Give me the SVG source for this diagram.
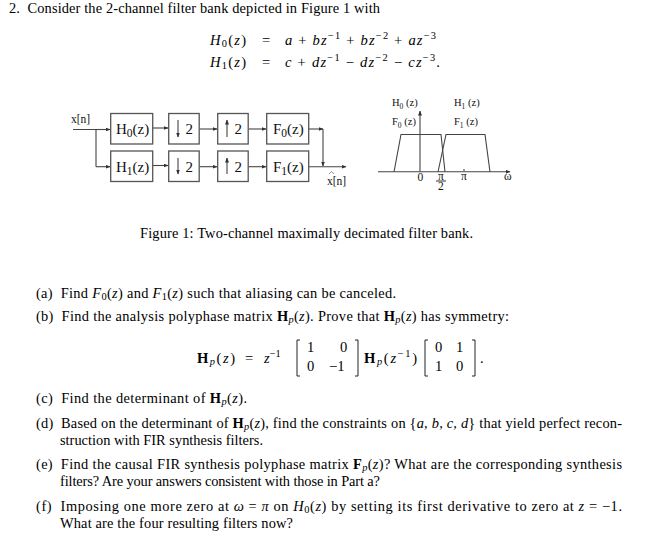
<svg xmlns="http://www.w3.org/2000/svg" width="659" height="558" viewBox="0 0 659 558">
<style>
text{font-family:"Liberation Serif","Times New Roman",serif;fill:#000;white-space:pre}
.b{font-size:14.4px}
.m{font-size:14.6px}
.i{font-style:italic}
.s{font-size:10.4px}
.bd{font-weight:bold}
.d{font-size:15px;fill:#111}
.sd{font-size:11.5px}
.sm{font-size:10.5px;fill:#111}
.ax{font-size:11.5px;fill:#111}
.ss{font-size:7.5px}
.lb{font-size:11.5px;fill:#111}
.box{fill:#fff;stroke:#555;stroke-width:1.3}
.ln{fill:none;stroke:#444;stroke-width:1.1}
.ar{fill:none;stroke:#444;stroke-width:1.1;marker-end:url(#a)}
.br{fill:none;stroke:#222;stroke-width:1}
</style>
<defs>
<marker id="a" markerWidth="5" markerHeight="4" refX="4.5" refY="2" orient="auto" markerUnits="userSpaceOnUse"><path d="M0 0L5 2L0 4z" fill="#333"/></marker>
</defs>
<rect width="659" height="558" fill="#fff"/>
<text class="b" x="9" y="13" textLength="371">2.  Consider the 2-channel filter bank depicted in Figure 1 with</text>
<g id="equations">
<text class="m" x="210" y="45" textLength="36"><tspan class="i">H</tspan><tspan class="s" dy="2">0</tspan><tspan dy="-2">(</tspan><tspan class="i">z</tspan>)</text>
<text class="m" x="262" y="45">=</text>
<text class="m" x="285" y="45" textLength="151"><tspan class="i">a</tspan> + <tspan class="i">bz</tspan><tspan class="s" dy="-6">−1</tspan><tspan dy="6"> + </tspan><tspan class="i">bz</tspan><tspan class="s" dy="-6">−2</tspan><tspan dy="6"> + </tspan><tspan class="i">az</tspan><tspan class="s" dy="-6">−3</tspan></text>
<text class="m" x="210" y="67" textLength="36"><tspan class="i">H</tspan><tspan class="s" dy="2">1</tspan><tspan dy="-2">(</tspan><tspan class="i">z</tspan>)</text>
<text class="m" x="262" y="67">=</text>
<text class="m" x="285" y="67" textLength="155"><tspan class="i">c</tspan> + <tspan class="i">dz</tspan><tspan class="s" dy="-6">−1</tspan><tspan dy="6"> − </tspan><tspan class="i">dz</tspan><tspan class="s" dy="-6">−2</tspan><tspan dy="6"> − </tspan><tspan class="i">cz</tspan><tspan class="s" dy="-6">−3</tspan><tspan dy="6">.</tspan></text>
</g>
<g id="connectors">
<path class="ln" d="M73 129.500H96V166.700"/>
<path class="ar" d="M96 129.500H110"/>
<path class="ar" d="M96 166.700H110"/>
<path class="ar" d="M153 128H168"/>
<path class="ar" d="M153 165.500H168"/>
<path class="ar" d="M199.500 129H217"/>
<path class="ar" d="M199.500 166.700H217"/>
<path class="ar" d="M248.500 129H266"/>
<path class="ar" d="M248.500 166.700H266"/>
<path class="ar" d="M309 129H323"/>
<path class="ar" d="M323 129V166"/>
<path class="ar" d="M309 166.700H346"/>
</g>
<g id="H0"><rect class="box" x="110.700" y="113.500" width="42" height="30.500"/><text class="d" x="116" y="134">H<tspan class="sd" dy="3">0</tspan><tspan dy="-3">(z)</tspan></text></g>
<g id="H1"><rect class="box" x="110.700" y="151" width="42" height="30.500"/><text class="d" x="116" y="171.500">H<tspan class="sd" dy="3">1</tspan><tspan dy="-3">(z)</tspan></text></g>
<g id="D0"><rect class="box" x="168.700" y="113.500" width="30.500" height="30.500"/><path class="ar" d="M178 120V137"/><text class="d" x="185.500" y="134">2</text></g>
<g id="D1"><rect class="box" x="168.700" y="151" width="30.500" height="30.500"/><path class="ar" d="M178 158V174"/><text class="d" x="185.500" y="171.500">2</text></g>
<g id="U0"><rect class="box" x="217.700" y="113.500" width="30.500" height="30.500"/><path class="ar" d="M227 137V120"/><text class="d" x="234.500" y="134">2</text></g>
<g id="U1"><rect class="box" x="217.700" y="151" width="30.500" height="30.500"/><path class="ar" d="M227 174V158"/><text class="d" x="234.500" y="171.500">2</text></g>
<g id="F0"><rect class="box" x="266.700" y="113.500" width="42" height="30.500"/><text class="d" x="273" y="134">F<tspan class="sd" dy="3">0</tspan><tspan dy="-3">(z)</tspan></text></g>
<g id="F1"><rect class="box" x="266.700" y="151" width="42" height="30.500"/><text class="d" x="273" y="171.500">F<tspan class="sd" dy="3">1</tspan><tspan dy="-3">(z)</tspan></text></g>
<g id="labels">
<text class="lb" x="71" y="123">x[n]</text>
<text class="lb" x="327" y="185">x[n]</text>
<path class="ln" style="stroke-width:.6" d="M329 174L331.500 171.500L334 174"/>
</g>
<g id="spectrum">
<path class="ar" d="M378 171.700H510"/>
<path class="ar" d="M420 172V111"/>
<path class="ln" d="M394 172L401 134.500H441L445 172"/>
<path class="ln" d="M438 172L446 134.500H485L490 172"/>
<path class="ln" d="M464 171V169"/>
<text class="sm" x="392" y="106">H<tspan class="ss" dy="3">0</tspan><tspan dy="-3"> (z)</tspan></text>
<text class="sm" x="454" y="106">H<tspan class="ss" dy="3">1</tspan><tspan dy="-3"> (z)</tspan></text>
<text class="sm" x="392" y="125">F<tspan class="ss" dy="3">0</tspan><tspan dy="-3"> (z)</tspan></text>
<text class="sm" x="454" y="125">F<tspan class="ss" dy="3">1</tspan><tspan dy="-3"> (z)</tspan></text>
<text class="ax" x="417.500" y="180.500">0</text>
<text class="ax" x="438" y="179.500">π</text>
<path class="ln" d="M436 181H446"/>
<text class="ax" x="438" y="190">2</text>
<text class="ax" x="461" y="179.500">π</text>
<text class="ax" x="504" y="180">ω</text>
</g>
<text class="b" x="140" y="238" textLength="333">Figure 1: Two-channel maximally decimated filter bank.</text>
<text class="b" x="36" y="298" textLength="360">(a)  Find <tspan class="i">F</tspan><tspan class="s" dy="2">0</tspan><tspan dy="-2">(</tspan><tspan class="i">z</tspan>) and <tspan class="i">F</tspan><tspan class="s" dy="2">1</tspan><tspan dy="-2">(</tspan><tspan class="i">z</tspan>) such that aliasing can be canceled.</text>
<text class="b" x="36" y="321" textLength="473">(b)  Find the analysis polyphase matrix <tspan class="bd">H</tspan><tspan class="s i" dy="2">p</tspan><tspan dy="-2">(</tspan><tspan class="i">z</tspan>). Prove that <tspan class="bd">H</tspan><tspan class="s i" dy="2">p</tspan><tspan dy="-2">(</tspan><tspan class="i">z</tspan>) has symmetry:</text>
<g id="matrix-equation">
<text class="m" x="197" y="363" textLength="38"><tspan class="bd">H</tspan><tspan class="s i" dy="2">p</tspan><tspan dy="-2">(</tspan><tspan class="i">z</tspan>)</text>
<text class="m" x="245" y="363">=</text>
<text class="m" x="264" y="363"><tspan class="i">z</tspan><tspan class="s" dy="-6">−1</tspan></text>
<path class="br" d="M300 340H297V376H300M355 340H358V376H355"/>
<text class="m" x="307" y="352">1</text><text class="m" x="340" y="352">0</text>
<text class="m" x="307" y="371">0</text><text class="m" x="329" y="371">−1</text>
<text class="m" x="364" y="363" textLength="53"><tspan class="bd">H</tspan><tspan class="s i" dy="2">p</tspan><tspan dy="-2">(</tspan><tspan class="i">z</tspan><tspan class="s" dy="-6">−1</tspan><tspan dy="6">)</tspan></text>
<path class="br" d="M428 340H425V376H428M472 340H475V376H472"/>
<text class="m" x="435" y="352">0</text><text class="m" x="456" y="352">1</text>
<text class="m" x="435" y="371">1</text><text class="m" x="456" y="371">0</text>
<text class="m" x="480" y="363">.</text>
</g>
<text class="b" x="36" y="403" textLength="211">(c)  Find the determinant of <tspan class="bd">H</tspan><tspan class="s i" dy="2">p</tspan><tspan dy="-2">(</tspan><tspan class="i">z</tspan>).</text>
<text class="b" x="36" y="428" textLength="586">(d)  Based on the determinant of <tspan class="bd">H</tspan><tspan class="s i" dy="2">p</tspan><tspan dy="-2">(</tspan><tspan class="i">z</tspan>), find the constraints on {<tspan class="i">a, b, c, d</tspan>} that yield perfect recon-</text>
<text class="b" x="60" y="445" textLength="203">struction with FIR synthesis filters.</text>
<text class="b" x="36" y="469" textLength="586">(e)  Find the causal FIR synthesis polyphase matrix <tspan class="bd">F</tspan><tspan class="s i" dy="2">p</tspan><tspan dy="-2">(</tspan><tspan class="i">z</tspan>)? What are the corresponding synthesis</text>
<text class="b" x="60" y="486" textLength="320">filters? Are your answers consistent with those in Part a?</text>
<text class="b" x="36" y="511" textLength="586">(f)  Imposing one more zero at <tspan class="i">ω</tspan> = <tspan class="i">π</tspan> on <tspan class="i">H</tspan><tspan class="s" dy="2">0</tspan><tspan dy="-2">(</tspan><tspan class="i">z</tspan>) by setting its first derivative to zero at <tspan class="i">z</tspan> = −1.</text>
<text class="b" x="60" y="528" textLength="233">What are the four resulting filters now?</text>
</svg>
